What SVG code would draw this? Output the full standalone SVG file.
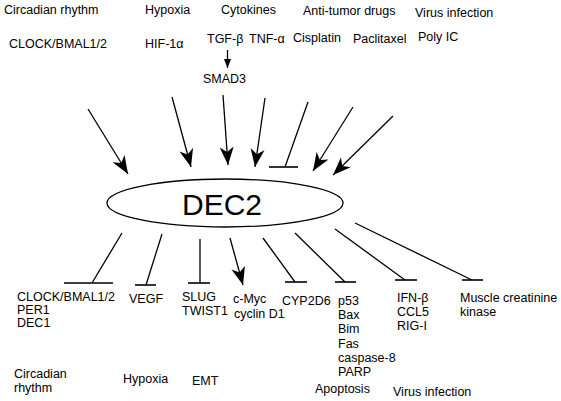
<svg xmlns="http://www.w3.org/2000/svg" width="561" height="401" viewBox="0 0 561 401">
<style>
text{font-family:"Liberation Sans",Arial,sans-serif;font-size:12.5px;fill:#000}
.c{stroke:#000;stroke-width:1.3;fill:none}
.b{stroke:#000;stroke-width:1.6;fill:none}
</style>
<defs>
<marker id="ah" markerUnits="userSpaceOnUse" markerWidth="20" markerHeight="16" refX="18" refY="8" orient="auto">
<path d="M0,1 L18,8 L0,15 L5,8 Z" fill="#000"/>
</marker>
<marker id="sa" markerUnits="userSpaceOnUse" markerWidth="10" markerHeight="8" refX="9" refY="4" orient="auto">
<path d="M0,0.5 L9,4 L0,7.5 Z" fill="#000"/>
</marker>
</defs>
<rect width="561" height="401" fill="#fff"/>
<g id="inputs">
<text x="4" y="13.5">Circadian rhythm</text>
<text x="145" y="13.5">Hypoxia</text>
<text x="221" y="13.5">Cytokines</text>
<text x="303" y="14.5">Anti-tumor drugs</text>
<text x="415" y="16.5">Virus infection</text>
<text x="9" y="48">CLOCK/BMAL1/2</text>
<text x="145" y="48">HIF-1α</text>
<text x="207" y="42.5">TGF-β</text>
<text x="249" y="42.5">TNF-α</text>
<text x="293" y="42">Cisplatin</text>
<text x="353" y="42.5">Paclitaxel</text>
<text x="418" y="41">Poly IC</text>
<text x="203" y="83">SMAD3</text>
</g>
<g id="DEC2">
<ellipse cx="225" cy="203" rx="118" ry="24" fill="#fff" stroke="#000" stroke-width="1.3"/>
<text x="222" y="215" text-anchor="middle" style="font-size:30px">DEC2</text>
</g>
<g id="outputs">
<text x="17" y="301">CLOCK/BMAL1/2</text>
<text x="17" y="314">PER1</text>
<text x="17" y="327">DEC1</text>
<text x="129" y="303">VEGF</text>
<text x="182" y="301">SLUG</text>
<text x="182" y="315">TWIST1</text>
<text x="233" y="303">c-Myc</text>
<text x="234" y="318">cyclin D1</text>
<text x="282" y="305">CYP2D6</text>
<text x="338" y="305">p53</text>
<text x="338" y="319">Bax</text>
<text x="338" y="333">Bim</text>
<text x="338" y="348">Fas</text>
<text x="338" y="362">caspase-8</text>
<text x="338" y="376">PARP</text>
<text x="397" y="302">IFN-β</text>
<text x="397" y="316">CCL5</text>
<text x="397" y="330">RIG-I</text>
<text x="460" y="302">Muscle creatinine</text>
<text x="460" y="316">kinase</text>
<text x="14" y="378">Circadian</text>
<text x="14" y="392">rhythm</text>
<text x="123" y="383">Hypoxia</text>
<text x="192" y="385">EMT</text>
<text x="315" y="393">Apoptosis</text>
<text x="393" y="396">Virus infection</text>
</g>
<g id="connectors">
<line class="c" x1="227.5" y1="50" x2="227.5" y2="68" marker-end="url(#sa)"/>
<line class="c" x1="88" y1="109" x2="128" y2="174" marker-end="url(#ah)"/>
<line class="c" x1="172" y1="97" x2="191" y2="167" marker-end="url(#ah)"/>
<line class="c" x1="223" y1="95" x2="228" y2="165" marker-end="url(#ah)"/>
<line class="c" x1="265" y1="98" x2="255" y2="167" marker-end="url(#ah)"/>
<line class="c" x1="308" y1="102" x2="285" y2="167"/>
<line class="b" x1="269" y1="167" x2="298" y2="167"/>
<line class="c" x1="353" y1="107" x2="313" y2="171" marker-end="url(#ah)"/>
<line class="c" x1="393" y1="116" x2="333" y2="175" marker-end="url(#ah)"/>
<line class="c" x1="122" y1="233" x2="92" y2="283"/>
<line class="b" x1="64" y1="283" x2="113" y2="283"/>
<line class="c" x1="162" y1="234" x2="146" y2="285"/>
<line class="b" x1="135" y1="285" x2="156" y2="285"/>
<line class="c" x1="200" y1="239" x2="200" y2="283"/>
<line class="b" x1="188" y1="283" x2="210" y2="283"/>
<line class="c" x1="230" y1="238" x2="243" y2="285" marker-end="url(#ah)"/>
<line class="c" x1="263" y1="238" x2="295" y2="282"/>
<line class="b" x1="285" y1="282" x2="307" y2="282"/>
<line class="c" x1="295" y1="233" x2="345" y2="282"/>
<line class="b" x1="335" y1="282" x2="356" y2="282"/>
<line class="c" x1="335" y1="229" x2="405" y2="280"/>
<line class="b" x1="395" y1="280" x2="417" y2="280"/>
<line class="c" x1="355" y1="223" x2="472" y2="280"/>
<line class="b" x1="462" y1="280" x2="483" y2="280"/>
</g>
</svg>
